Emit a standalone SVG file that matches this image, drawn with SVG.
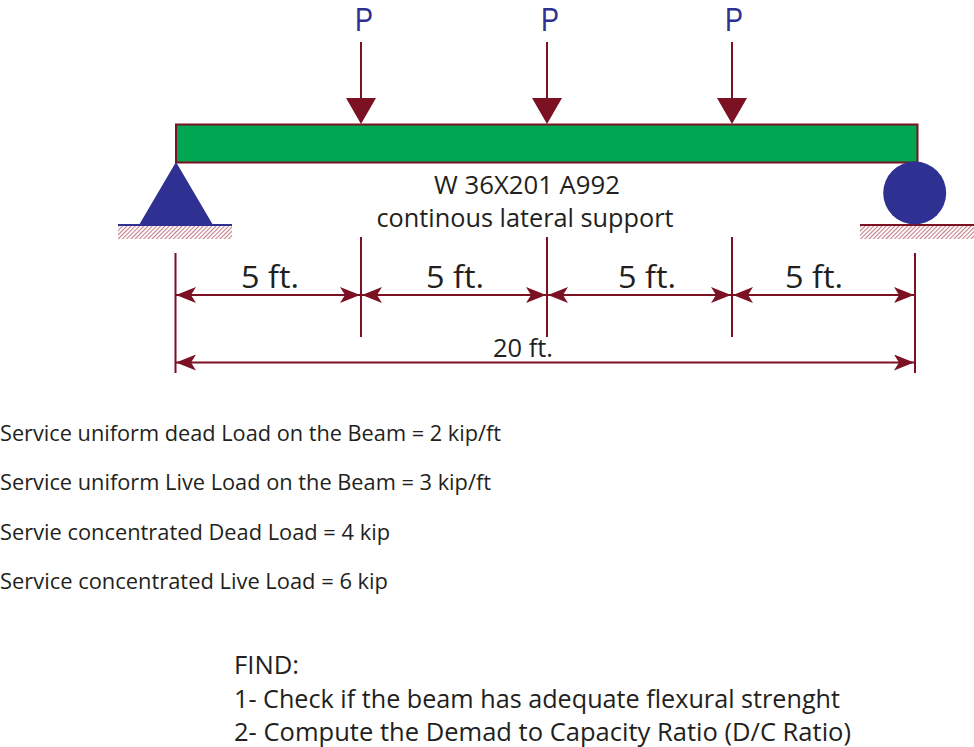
<svg xmlns="http://www.w3.org/2000/svg" width="974" height="747" viewBox="0 0 974 747">
<style>
text{font-family:"Open Sans","Noto Sans","Liberation Sans",sans-serif;fill:#231f20}
.p{font-family:"Liberation Sans",sans-serif;font-size:33px;fill:#2e3192;text-anchor:middle}
.d{font-size:31px;text-anchor:middle}
.s{font-size:22.5px}
.f{font-size:25.5px}
.l{font-size:25px;text-anchor:middle}
.dl{stroke:#7b1123;stroke-width:2;fill:none}
.ah{fill:#7b1123}
.g{stroke:#7b1123;stroke-width:2}
</style>
<defs>
<pattern id="hatch" width="3" height="4" patternUnits="userSpaceOnUse" patternTransform="rotate(45)"><rect width="1.1" height="4" fill="#c47f89"/></pattern>
<marker id="a" markerWidth="20" markerHeight="16" refX="20" refY="8" orient="auto-start-reverse" markerUnits="userSpaceOnUse"><path d="M0 0L20 8L0 16L5 8Z" class="ah"/></marker>
</defs>
<g id="beam"><rect x="176" y="124.5" width="741.5" height="38" fill="#00a651" stroke="#7b1123" stroke-width="2"/></g>
<g id="pin-support">
<rect x="118" y="226" width="114" height="13" fill="url(#hatch)"/>
<path d="M118 225H232" stroke="#2e3192" stroke-width="2"/>
<path d="M176 162L213 225H139Z" fill="#2e3192"/>
</g>
<g id="roller-support">
<rect x="860" y="226" width="114" height="13" fill="url(#hatch)"/>
<path d="M860 225H974" class="g"/>
<circle cx="914.7" cy="193" r="31.5" fill="#2e3192"/>
</g>
<g id="connectors">
<path class="dl" d="M361 42V100M547 42V100M732 42V100"/>
<path class="ah" d="M346 98H376L361 124ZM532 98H562L547 124ZM717 98H747L732 124Z"/>
<path class="dl" d="M175.500 253V373M361 237V337M547 237V337M732 237V337M915 253V373"/>
<path class="dl" d="M176 295H360" marker-start="url(#a)" marker-end="url(#a)"/>
<path class="dl" d="M362 295H546" marker-start="url(#a)" marker-end="url(#a)"/>
<path class="dl" d="M548 295H731" marker-start="url(#a)" marker-end="url(#a)"/>
<path class="dl" d="M733 295H914" marker-start="url(#a)" marker-end="url(#a)"/>
<path class="dl" d="M176 362.500H914" marker-start="url(#a)" marker-end="url(#a)"/>
</g>
<g id="load-labels">
<text class="p" x="364" y="31" textLength="18" lengthAdjust="spacingAndGlyphs">P</text>
<text class="p" x="550" y="31" textLength="18" lengthAdjust="spacingAndGlyphs">P</text>
<text class="p" x="734" y="31" textLength="18" lengthAdjust="spacingAndGlyphs">P</text>
</g>
<g id="beam-label">
<text class="l" x="527" y="194" textLength="186" lengthAdjust="spacingAndGlyphs">W 36X201 A992</text>
<text class="l" x="525" y="227" textLength="297" lengthAdjust="spacingAndGlyphs">continous lateral support</text>
</g>
<g id="dimension-labels">
<text class="d" x="270" y="288" textLength="58" lengthAdjust="spacingAndGlyphs">5 ft.</text>
<text class="d" x="455" y="288" textLength="58" lengthAdjust="spacingAndGlyphs">5 ft.</text>
<text class="d" x="647" y="288" textLength="58" lengthAdjust="spacingAndGlyphs">5 ft.</text>
<text class="d" x="814" y="288" textLength="58" lengthAdjust="spacingAndGlyphs">5 ft.</text>
<text class="l" x="523" y="357" textLength="60" lengthAdjust="spacingAndGlyphs">20 ft.</text>
</g>
<g id="given">
<text class="s" x="0" y="441" textLength="501" lengthAdjust="spacingAndGlyphs">Service uniform dead Load on the Beam = 2 kip/ft</text>
<text class="s" x="0" y="490" textLength="491" lengthAdjust="spacingAndGlyphs">Service uniform Live Load on the Beam = 3 kip/ft</text>
<text class="s" x="0" y="540" textLength="390" lengthAdjust="spacingAndGlyphs">Servie concentrated Dead Load = 4 kip</text>
<text class="s" x="0" y="589" textLength="388" lengthAdjust="spacingAndGlyphs">Service concentrated Live Load = 6 kip</text>
</g>
<g id="find">
<text class="f" x="234" y="674" textLength="65" lengthAdjust="spacingAndGlyphs">FIND:</text>
<text class="f" x="234" y="708" textLength="606" lengthAdjust="spacingAndGlyphs">1- Check if the beam has adequate flexural strenght</text>
<text class="f" x="234" y="741" textLength="617" lengthAdjust="spacingAndGlyphs">2- Compute the Demad to Capacity Ratio (D/C Ratio)</text>
</g>
</svg>
